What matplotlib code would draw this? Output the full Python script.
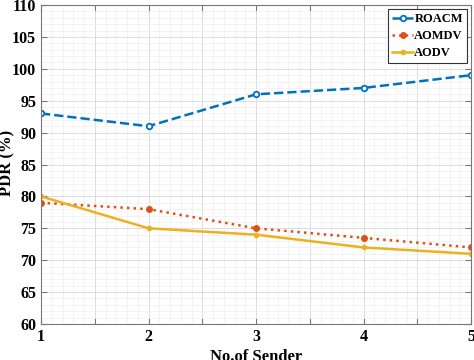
import numpy as np
import matplotlib.pyplot as plt
from matplotlib.ticker import MultipleLocator

senders = [1, 2, 3, 4, 5]
roacm = [93, 91, 96, 97, 99]
aomdv = [79, 78, 75, 73.5, 72]
aodv = [80, 75, 74, 72, 71]

plt.rcParams['font.family'] = 'Liberation Serif'
plt.rcParams['font.weight'] = 'bold'

fig = plt.figure(figsize=(4.74, 3.6), dpi=100)
ax = fig.add_axes([41 / 474, 36 / 360, 430 / 474, 319 / 360])

ax.plot(senders, roacm, '--o', color='#0072BD', lw=1.8, ms=4,
        mfc='white', mew=1.3, label='ROACM')
ax.plot(senders, aomdv, ':o', color='#D95319', lw=1.8, ms=4,
        label='AOMDV')
ax.plot(senders, aodv, '-o', color='#EDB120', lw=1.8, ms=3,
        label='AODV')

ax.set_xlim(1, 5)
ax.set_ylim(60, 110)
ax.xaxis.set_major_locator(MultipleLocator(0.5))
ax.xaxis.set_minor_locator(MultipleLocator(0.1))
ax.yaxis.set_major_locator(MultipleLocator(5))
ax.yaxis.set_minor_locator(MultipleLocator(1))
ax.set_xticklabels([f'{v:g}' if float(v).is_integer() else '' for v in ax.get_xticks()])

ax.grid(which='major', color='#dcdcdc', lw=0.7)
ax.grid(which='minor', color='#eeeeee', lw=0.5)
ax.tick_params(which='both', direction='in', top=True, right=True,
               labelsize=11.5, color='#777777')
ax.tick_params(which='minor', length=0)
ax.tick_params(which='major', length=4)
for s in ax.spines.values():
    s.set_color('#777777')

ax.set_xlabel('No.of Sender', fontsize=12, fontweight='bold', va='center')
ax.set_ylabel('PDR (%)', fontsize=12, fontweight='bold', va='center')
ax.xaxis.set_label_coords(0.5, -0.105)
ax.yaxis.set_label_coords(-0.079, 0.505)

leg = ax.legend(loc='upper right', fontsize=9, handlelength=1.7,
                borderpad=0.3, labelspacing=0.4, handletextpad=0.1,
                fancybox=False, framealpha=1, borderaxespad=0.35)
leg.get_frame().set_edgecolor('#333333')
leg.get_frame().set_linewidth(0.8)

fig.savefig('out.png', dpi=100)
